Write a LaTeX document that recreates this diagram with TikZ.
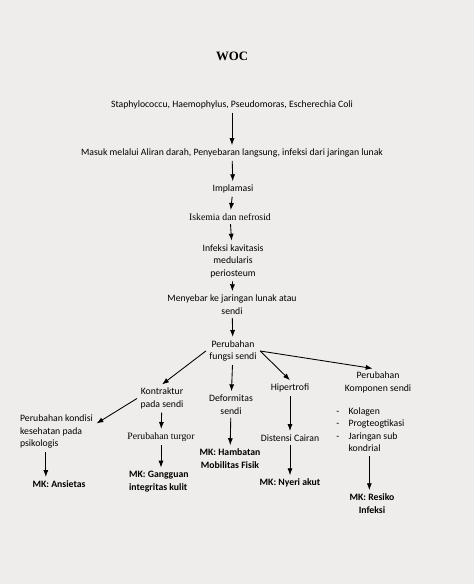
\documentclass[tikz,border=0pt]{standalone}
\usepackage{fontspec}
\setmainfont{Carlito}
\newfontfamily\serifface{Liberation Serif}
\usepackage{xcolor}
\usepackage{tikz}
\usetikzlibrary{arrows.meta,positioning}

\definecolor{paper}{HTML}{EEEDEB}

\begin{document}
\begin{tikzpicture}[x=0.75pt,y=-0.75pt,
  txt/.style={inner sep=2.5pt,align=center,font=\fontsize{7.3}{9.4}\selectfont},
  serif/.style={txt,font=\serifface\fontsize{7.3}{9.4}\selectfont},
  mk/.style={txt,font=\bfseries\fontsize{7.3}{9.4}\selectfont},
  arr/.style={-{Latex[length=5.2pt,width=3.8pt]},line width=0.65pt}]
\fill[paper] (0,0) rectangle (474,584);

\node[font=\serifface\bfseries\fontsize{9.6}{11}\selectfont] (title) at (232,56) {WOC};

% main chain
\node[txt] (src) at (232,105) {Staphylococcu, Haemophylus, Pseudomoras, Escherechia Coli};
\node[txt] (masuk) at (232,153) {Masuk melalui Aliran darah, Penyebaran langsung, infeksi dari jaringan lunak};
\node[txt] (impl) at (233,189) {Implamasi};
\node[serif] (isk) at (230,217) {Iskemia dan nefrosid};
\node[txt] (infeksi) at (233,261) {Infeksi kavitasis\\medularis\\periosteum};
\node[txt] (menyebar) at (232,304.5) {Menyebar ke jaringan lunak atau\\sendi};
\node[txt] (fungsi) at (233,351) {Perubahan\\fungsi sendi};

% branches
\node[txt] (kontraktur) at (162,398.5) {Kontraktur\\pada sendi};
\node[txt] (deform) at (231,404.5) {Deformitas\\sendi};
\node[txt] (hiper) at (290,388) {Hipertrofi};
\node[txt] (komponen) at (378,382.5) {Perubahan\\Komponen sendi};

\node[txt,align=left,anchor=west] (kondisi) at (16.5,431.5) {Perubahan kondisi\\kesehatan pada\\psikologis};
\node[serif] (turgor) at (161,437) {Perubahan turgor};
\node[txt,align=left,anchor=north west,inner sep=0pt] (daftar) at (336,405) {%
  \begin{tabular}{@{}l@{\hspace{7pt}}l@{}}
  - & Kolagen\\
  - & Progteogtikasi\\
  - & Jaringan sub\\
    & kondrial
  \end{tabular}};
\node[txt] (distensi) at (290,438) {Distensi Cairan};

% masalah keperawatan
\node[mk] (ansietas) at (59,484) {MK: Ansietas};
\node[mk,align=left,anchor=west] (gangguan) at (125.5,481.5) {MK: Gangguan\\integritas kulit};
\node[mk] (hambatan) at (230,458.5) {MK: Hambatan\\Mobilitas Fisik};
\node[mk] (nyeri) at (290,483) {MK: Nyeri akut};
\node[mk] (resiko) at (372,503.5) {MK: Resiko\\Infeksi};

\draw[arr] (src)--(masuk);
\draw[arr] (masuk)--(impl);
\draw[arr] (impl)--(isk);
\draw[arr] (isk)--(infeksi);
\draw[arr] (infeksi)--(menyebar);
\draw[arr] (menyebar)--(fungsi);

\draw[arr] (fungsi.west)--(kontraktur.north);
\draw[arr] (fungsi)--(deform);
\draw[arr] (fungsi.east)--(hiper.north);
\draw[arr] (fungsi.east)--([xshift=-4pt]komponen.north);

\draw[arr] (kontraktur.west)--([yshift=6pt]kondisi.east);
\draw[arr] (kontraktur)--(turgor);
\draw[arr] ([xshift=22pt]kondisi.south west)--([xshift=22pt]kondisi.south west |- ansietas.north);
\draw[arr] (turgor)--(turgor |- gangguan.north);
\draw[arr] (deform)--(hambatan);
\draw[arr] (hiper)--(distensi);
\draw[arr] (distensi)--(nyeri);
\draw[arr] ([xshift=-2pt]resiko.north |- daftar.south)--([xshift=-2pt]resiko.north);
\end{tikzpicture}
\end{document}
